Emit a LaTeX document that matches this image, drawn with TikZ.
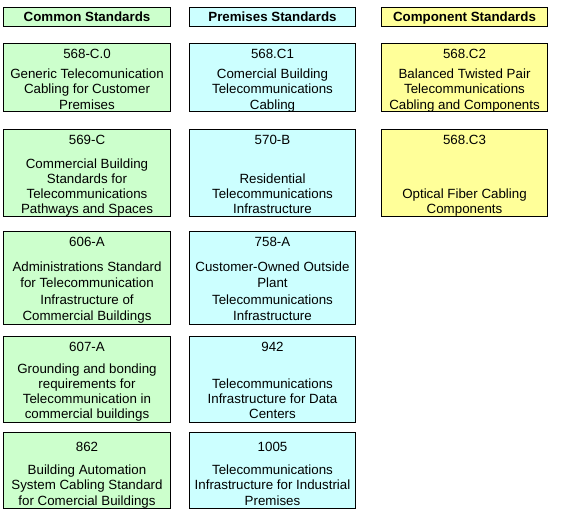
\documentclass[tikz,border=0pt]{standalone}
\usepackage{fontspec}
\setmainfont{Liberation Sans}
\definecolor{cgreen}{RGB}{204,255,204}
\definecolor{ccyan}{RGB}{204,255,255}
\definecolor{cyellow}{RGB}{255,255,153}
\tikzset{numoff/.store in=\numoff, numoff=12.2pt}
% name, x-centre, top, bottom, colour, number, description, line skip (pt), bottom offset (px)
\newcommand\stdbox[9]{%
  \node[stdrect, fill=#5, minimum width=124.9pt, minimum height={(#4-#3)*0.75pt}]
    (#1) at (#2,{(#3+#4)/2}) {};
  \node[numtext] (#1n) at ([yshift=-\numoff]#1.north) {#6};
  \node[desctext, font=\fontsize{10}{#8}\selectfont] (#1d) at ([yshift={#9*0.75pt}]#1.south) {#7};
}
\newcommand\hdrbox[4]{%
  \node[stdrect, fill=#3, minimum width=124.9pt, minimum height=14.25pt,
    text height=7.2pt, text depth=0pt,
    font=\bfseries\fontsize{10}{12}\selectfont]
    (#1) at (#2,16.5) {#4};
}
\begin{document}
\begin{tikzpicture}[x=0.75pt,y=-0.75pt,
  stdrect/.style={draw=black, line width=0.6pt, inner sep=0pt},
  numtext/.style={anchor=base, inner sep=0pt, font=\fontsize{10}{12}\selectfont},
  desctext/.style={anchor=south, inner sep=0pt, text depth=0pt, align=center}]
\useasboundingbox[fill=white] (0,0) rectangle (577,518);
% headers
\hdrbox{hA}{87}{cgreen}{Common Standards}
\hdrbox{hB}{272.5}{ccyan}{Premises Standards}
\hdrbox{hC}{464.5}{cyellow}{Component Standards}
% row 1
\stdbox{a1}{87}{43}{111}{cgreen}{568-C.0}{Generic Telecomunication\\Cabling for Customer\\Premises}{11.4}{2}
\stdbox{b1}{272.5}{43}{111}{ccyan}{568.C1}{Comercial Building\\Telecommunications\\Cabling}{11.4}{2}
\stdbox{c1}{464.5}{43}{111}{cyellow}{568.C2}{Balanced Twisted Pair\\Telecommunications\\Cabling and Components}{11.4}{2}
% row 2
\stdbox{a2}{87}{129}{216}{cgreen}{569-C}{Commercial Building\\Standards for\\Telecommunications\\Pathways and Spaces}{11.25}{3}
\stdbox{b2}{272.5}{129}{216}{ccyan}{570-B}{Residential\\Telecommunications\\Infrastructure}{11.25}{3}
\stdbox{c2}{464.5}{129}{216}{cyellow}{568.C3}{Optical Fiber Cabling\\Components}{11.25}{3}
% row 3
\stdbox{a3}{87}{231}{324}{cgreen}{606-A}{Administrations Standard\\for Telecommunication\\Infrastructure of\\Commercial Buildings}{12.4}{3.5}
\stdbox{b3}{272.5}{231}{324}{ccyan}{758-A}{Customer-Owned Outside\\Plant\\Telecommunications\\Infrastructure}{12.4}{3.5}
% row 4
\stdbox{a4}{87}{336}{422}{cgreen}{607-A}{Grounding and bonding\\requirements for\\Telecommunication in\\commercial buildings}{11.25}{3.5}
\stdbox{b4}{272.5}{336}{422}{ccyan}{942}{Telecommunications\\Infrastructure for Data\\Centers}{11.25}{3.5}
% row 5
\begin{scope}[numoff=15.2pt]
\stdbox{a5}{87}{432}{508}{cgreen}{862}{Building Automation\\System Cabling Standard\\for Comercial Buildings}{11.6}{3}
\stdbox{b5}{272.5}{432}{508}{ccyan}{1005}{Telecommunications\\Infrastructure for Industrial\\Premises}{11.6}{3}
\end{scope}
\end{tikzpicture}
\end{document}
